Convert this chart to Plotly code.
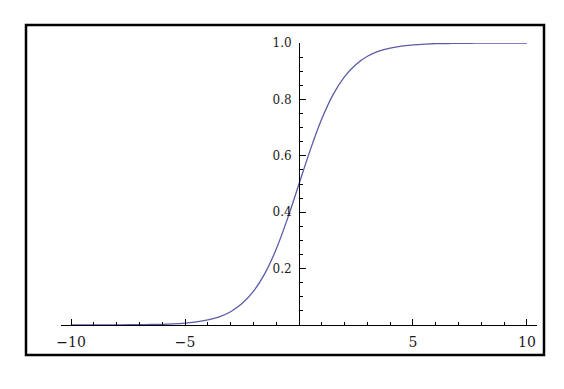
import plotly.graph_objects as go

# Values (logistic-shaped curve)
x_vals = [-10, -9.5, -9, -8.5, -8, -7.5, -7, -6.5, -6, -5.5, -5, -4.5, -4, -3.5, -3,
          -2.5, -2, -1.5, -1, -0.5, 0, 0.5, 1, 1.5, 2, 2.5, 3, 3.5, 4, 4.5, 5,
          5.5, 6, 6.5, 7, 7.5, 8, 8.5, 9, 9.5, 10]
y_vals = [0.000, 0.000, 0.000, 0.000, 0.000, 0.001, 0.001, 0.002, 0.002, 0.004, 0.007,
          0.011, 0.018, 0.029, 0.047, 0.076, 0.119, 0.182, 0.269, 0.378, 0.500,
          0.622, 0.731, 0.818, 0.881, 0.924, 0.953, 0.971, 0.982, 0.989, 0.993,
          0.996, 0.998, 0.998, 0.999, 0.999, 1.000, 1.000, 1.000, 1.000, 1.000]

x_ticks = [-10, -5, 5, 10]
x_tick_text = ["\u221210", "\u22125", "5", "10"]
y_ticks = [0.2, 0.4, 0.6, 0.8, 1.0]
y_tick_text = ["0.2", "0.4", "0.6", "0.8", "1.0"]

fig = go.Figure()
fig.add_trace(go.Scatter(x=x_vals, y=y_vals, mode="lines",
                         line=dict(color="#5b5ba8", width=1.3, shape="spline"),
                         hoverinfo="skip", showlegend=False))

xfont = dict(family="DejaVu Serif, Liberation Serif, serif", size=14, color="#1a1a1a")
yfont = dict(family="DejaVu Serif, Liberation Serif, serif", size=12, color="#1a1a1a")

fig.update_layout(
    width=564, height=389,
    margin=dict(l=61, r=27, t=43, b=64),
    paper_bgcolor="white", plot_bgcolor="white",
    xaxis=dict(range=[-10.44, 10.44], showgrid=False, zeroline=False,
               showline=True, linecolor="black", linewidth=1,
               tickmode="array", tickvals=x_ticks, ticktext=x_tick_text,
               ticks="inside", ticklen=6, tickcolor="black", tickwidth=1,
               minor=dict(ticks="inside", dtick=1, tick0=0, ticklen=3,
                          tickcolor="black", tickwidth=1),
               tickfont=xfont, ticklabelstandoff=4, fixedrange=True),
    yaxis=dict(range=[0, 1.0], showgrid=False, zeroline=False,
               anchor="free", position=0.5,
               showline=True, linecolor="black", linewidth=1,
               tickmode="array", tickvals=y_ticks, ticktext=y_tick_text,
               ticks="inside", ticklen=6, tickcolor="black", tickwidth=1,
               minor=dict(ticks="inside", dtick=0.05, tick0=0, ticklen=3,
                          tickcolor="black", tickwidth=1),
               tickfont=yfont, ticklabelstandoff=5, fixedrange=True),
    shapes=[dict(type="rect", xref="paper", yref="paper",
                 x0=(26 - 61) / 476, x1=(544 - 61) / 476,
                 y0=(325 - 355) / 282, y1=(325 - 25) / 282,
                 line=dict(color="black", width=2.5), fillcolor="rgba(0,0,0,0)",
                 layer="above")],
)

fig.write_html("out.html")
